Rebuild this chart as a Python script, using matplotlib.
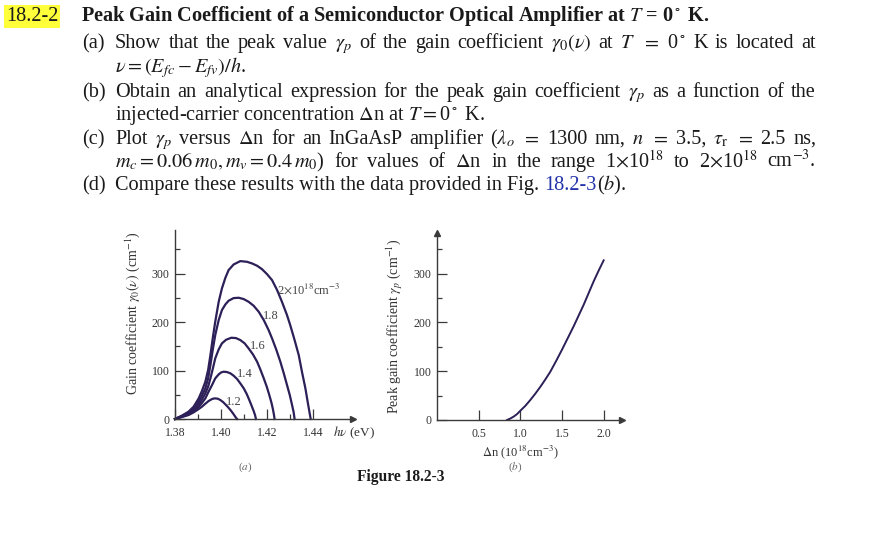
import numpy as np
import matplotlib
matplotlib.use("Agg")
import matplotlib.pyplot as plt

# ---- data ----
# (a) gain coefficient vs photon energy (eV), one curve per carrier concentration
energy_2_0 = [1.3800, 1.3830, 1.3859, 1.3881, 1.3903, 1.3917, 1.3932, 1.3944, 1.3954,
              1.3964, 1.3975, 1.3990, 1.4004, 1.4019, 1.4033, 1.4055, 1.4084, 1.4113,
              1.4135, 1.4157, 1.4178, 1.4200, 1.4222, 1.4244, 1.4265, 1.4287, 1.4301,
              1.4320, 1.4338, 1.4352, 1.4367, 1.4378, 1.4390]
gain_2_0 = [0, 6.9, 15.1, 25.4, 42.6, 57.7, 77, 101, 132, 166.3, 200.7, 241.9, 269.4,
            291.3, 307.2, 318.9, 325.8, 324.4, 321, 316.2, 309.3, 299, 286.6, 266, 241.9,
            214.4, 193.8, 162.9, 132, 97.6, 63.2, 32.3, 0]

energy_1_8 = [1.3800, 1.3830, 1.3859, 1.3881, 1.3903, 1.3917, 1.3932, 1.3944, 1.3954,
              1.3964, 1.3975, 1.3990, 1.4004, 1.4019, 1.4033, 1.4055, 1.4077, 1.4099,
              1.4120, 1.4142, 1.4164, 1.4186, 1.4207, 1.4222, 1.4241, 1.4258, 1.4273,
              1.4287, 1.4299, 1.4309, 1.4316, 1.4320]
gain_1_8 = [0, 6.2, 13.7, 23.4, 35.7, 48.1, 63.2, 83.8, 111.3, 142.3, 173.2, 204.1, 224.7,
            236.4, 244, 249.5, 250.2, 247.4, 241.9, 233.7, 221.3, 204.1, 183.5, 166.3,
            142.3, 118.3, 94.2, 70.1, 49.5, 28.9, 13.7, 0]

energy_1_6 = [1.3800, 1.3830, 1.3859, 1.3881, 1.3903, 1.3917, 1.3932, 1.3944, 1.3954,
              1.3964, 1.3975, 1.3990, 1.4004, 1.4022, 1.4045, 1.4065, 1.4084, 1.4103,
              1.4120, 1.4139, 1.4157, 1.4171, 1.4186, 1.4199, 1.4210, 1.4219, 1.4225,
              1.4230, 1.4233]
gain_1_6 = [0, 5.5, 11.7, 19.9, 30.2, 39.9, 52.9, 66.7, 83.8, 103, 125.1, 143.6, 156,
            163.5, 167.7, 167, 162.9, 156, 145.7, 133.3, 118.2, 102.4, 83.8, 66.7, 49.5,
            34.4, 22, 9.6, 0]

energy_1_4 = [1.3800, 1.3830, 1.3859, 1.3881, 1.3903, 1.3917, 1.3932, 1.3946, 1.3961,
              1.3975, 1.3990, 1.4001, 1.4012, 1.4026, 1.4041, 1.4055, 1.4070, 1.4084,
              1.4099, 1.4112, 1.4123, 1.4133, 1.4142, 1.4148, 1.4152]
gain_1_4 = [0, 4.8, 9.6, 16.5, 25.4, 33, 42.6, 56.4, 70.1, 83.8, 92.1, 96.2, 97.6, 96.9,
            94.2, 89.3, 82.5, 73.5, 63.2, 51.5, 39.2, 27.5, 16.5, 8.2, 0]

energy_1_2 = [1.3800, 1.3830, 1.3859, 1.3881, 1.3903, 1.3917, 1.3932, 1.3946, 1.3961,
              1.3972, 1.3986, 1.3997, 1.4009, 1.4019, 1.4030, 1.4041, 1.4051, 1.4059,
              1.4065, 1.4070]
gain_1_2 = [0, 4.1, 8.2, 13.7, 20.6, 25.4, 31.6, 37.1, 41.2, 42.6, 41.9, 39.2, 35, 30.2,
            24.7, 18.6, 12.4, 6.9, 2.7, 0]

curve_labels = [r"2$\times$10$^{18}$cm$^{-3}$", "1.8", "1.6", "1.4", "1.2"]
label_x = [1.4243, 1.4217, 1.4161, 1.4104, 1.4057]
label_y = [268, 212, 150, 93, 35]

# (b) peak gain coefficient vs injected carrier concentration (1e18 cm^-3)
dn = [0.84, 0.88, 0.92, 0.96, 1.00, 1.06, 1.12, 1.18, 1.24, 1.30, 1.36, 1.43, 1.50,
      1.57, 1.64, 1.70, 1.76, 1.82, 1.88, 1.94, 2.00]
gain_peak = [0, 3, 7, 12, 19, 29, 41, 54, 68, 83, 99, 121, 144, 168, 192, 214, 236,
             260, 284, 306, 327]

W, H = 893, 549
plt.rcParams['font.family'] = ['Liberation Serif', 'DejaVu Serif']
plt.rcParams['mathtext.fontset'] = 'stix'

fig = plt.figure(figsize=(W / 100, H / 100), dpi=100)


def fx(px):
    return px / W


def fy(py):
    return 1 - py / H


ink = '#1a1a1a'
line_col = '#2d1f57'
axis_col = '#3a3a3a'
lab_col = '#333333'
fs_body = 14.6
fs_tick = 8.5
fs_lab = 10


def justify(tokens, x0, x1, yb, **kw):
    # spread the words over x0..x1, like the justified book text
    r = fig.canvas.get_renderer()
    texts = [fig.text(0, fy(yb), t, va='baseline', **kw) for t in tokens]
    widths = [t.get_window_extent(r).width for t in texts]
    gap = (x1 - x0 - sum(widths)) / (len(texts) - 1)
    x = x0
    for t, w in zip(texts, widths):
        t.set_x(fx(x))
        x += w + gap


# ---- page text ----
fig.text(fx(6), fy(21), "18.2-2", fontsize=fs_body, va='baseline', color=ink,
         bbox=dict(boxstyle='square,pad=0.08', fc='#ffff3a', ec='none'))
fig.text(fx(81), fy(21), r"Peak Gain Coefficient of a Semiconductor Optical Amplifier at $T$ = 0$^\circ$ K.",
         fontsize=fs_body, fontweight='bold', va='baseline', color=ink)

for lab, yb in zip(["(a)", "(b)", "(c)", "(d)"], [48, 97, 144, 190]):
    fig.text(fx(82), fy(yb), lab, fontsize=fs_body, va='baseline', color=ink)

justify(["Show", "that", "the", "peak", "value", r"$\gamma_p$", "of", "the", "gain",
         "coefficient", r"$\gamma_0(\nu)$", "at", r"$T$", "$=$", r"0$^\circ$", "K", "is",
         "located", "at"], 115, 816, 48, fontsize=fs_body, color=ink)
fig.text(fx(115), fy(72), r"$\nu = (E_{fc} - E_{fv})/h$.", fontsize=fs_body, va='baseline', color=ink)
justify(["Obtain", "an", "analytical", "expression", "for", "the", "peak", "gain",
         "coefficient", r"$\gamma_p$", "as", "a", "function", "of", "the"],
        115, 816, 97, fontsize=fs_body, color=ink)
fig.text(fx(115), fy(120), r"injected-carrier concentration $\Delta$n at $T = $0$^\circ$ K.",
         fontsize=fs_body, va='baseline', color=ink)
justify(["Plot", r"$\gamma_p$", "versus", r"$\Delta$n", "for", "an", "InGaAsP", "amplifier",
         r"($\lambda_o$", "$=$", "1300", "nm,", "$n$", "$=$", "3.5,", r"$\tau_\mathrm{r}$", "$=$",
         "2.5", "ns,"], 115, 816, 144, fontsize=fs_body, color=ink)
justify([r"$m_c = 0.06\,m_0, m_v = 0.4\,m_0$)", "for", "values", "of", r"$\Delta$n", "in", "the",
         "range", r"1$\times$10$^{18}$", "to", r"2$\times$10$^{18}$", r"cm$^{-3}$."],
        115, 816, 167, fontsize=fs_body, color=ink)
t = fig.text(fx(115), fy(190), "Compare these results with the data provided in Fig. ",
             fontsize=fs_body, va='baseline', color=ink)
r = fig.canvas.get_renderer()
xe = t.get_window_extent(r).x1
t2 = fig.text(xe / W, fy(190), "18.2-3", fontsize=fs_body, va='baseline', color='#2233aa')
xe = t2.get_window_extent(r).x1
fig.text(xe / W, fy(190), r"($b$).", fontsize=fs_body, va='baseline', color=ink)

# ---- (a) gain spectra ----
ax1 = fig.add_axes([fx(175), fy(419), (353 - 175) / W, (419 - 230) / H])
for e, g in [(energy_2_0, gain_2_0), (energy_1_8, gain_1_8), (energy_1_6, gain_1_6),
             (energy_1_4, gain_1_4), (energy_1_2, gain_1_2)]:
    ax1.plot(e, g, color=line_col, lw=1.6, solid_joinstyle='round', clip_on=False)
for s, x, y in zip(curve_labels, label_x, label_y):
    ax1.text(x, y, s, fontsize=9, color='#444444', va='center',
             ha='left' if 'times' in s else 'center')
ax1.set_xlim(1.38, 1.4574)
ax1.set_ylim(0, 390)
ax1.set_xticks([1.38, 1.40, 1.42, 1.44])
ax1.set_xticklabels(["1.38", "1.40", "1.42", "1.44"])
ax1.set_xticks([1.39, 1.41, 1.43], minor=True)
ax1.set_yticks([0, 100, 200, 300])
ax1.set_yticks([50, 150, 250, 350], minor=True)
ax1.set_ylabel(r"Gain coefficient $\gamma_0(\nu)$ (cm$^{-1}$)", fontsize=fs_lab, color=lab_col)
ax1.yaxis.set_label_coords(-0.185, 0.56)
ax1.text(0.888, -0.074, r"$h\nu$ (eV)", transform=ax1.transAxes, fontsize=9.5,
         color=lab_col, va='center', ha='left')

# ---- (b) peak gain ----
ax2 = fig.add_axes([fx(437), fy(420), (622 - 437) / W, (420 - 233) / H])
ax2.plot(dn, gain_peak, color=line_col, lw=1.4)
ax2.set_xlim(0, 2.22)
ax2.set_ylim(0, 383)
ax2.set_xticks([0.5, 1.0, 1.5, 2.0])
ax2.set_yticks([0, 100, 200, 300])
ax2.set_yticks([50, 150, 250, 350], minor=True)
ax2.set_xlabel(r"$\Delta$n (10$^{18}$cm$^{-3}$)", fontsize=9, color=lab_col)
ax2.xaxis.set_label_coords(0.45, -0.125)
ax2.set_ylabel(r"Peak gain coefficient $\gamma_p$ (cm$^{-1}$)", fontsize=fs_lab, color=lab_col)
ax2.yaxis.set_label_coords(-0.175, 0.5)

for ax in (ax1, ax2):
    for side in ('top', 'right'):
        ax.spines[side].set_visible(False)
    for side in ('left', 'bottom'):
        ax.spines[side].set_color(axis_col)
        ax.spines[side].set_linewidth(1.0)
    ax.tick_params(which='both', direction='in', colors=axis_col, labelcolor=lab_col,
                   labelsize=fs_tick, width=0.9)
    ax.tick_params(which='major', length=7, pad=4)
    ax.tick_params(which='minor', length=3.5)
    ax.tick_params(axis='x', which='major', pad=6)
    ax.patch.set_alpha(0)
    ax.plot(1, 0, ">", color=axis_col, ms=4, transform=ax.get_yaxis_transform(), clip_on=False)
    ax.plot(0, 1, "^", color=axis_col, ms=4, transform=ax.get_xaxis_transform(), clip_on=False)

# captions under the panels
fig.text(fx(245), fy(467), "($a$)", fontsize=8, color='#666666', ha='center', va='center')
fig.text(fx(515), fy(467), "($b$)", fontsize=8, color='#666666', ha='center', va='center')
fig.text(fx(401), fy(477), "Figure 18.2-3", fontsize=11.2, fontweight='bold', color=ink,
         ha='center', va='center')

fig.savefig("out.png", dpi=100)
